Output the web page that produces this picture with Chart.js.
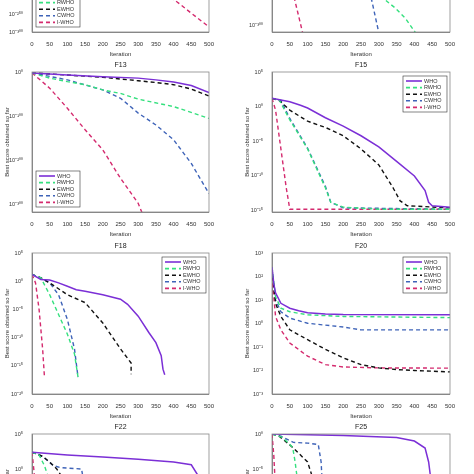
<!DOCTYPE html>
<html>
<head>
<meta charset="utf-8">
<script src="https://cdn.jsdelivr.net/npm/chart.js@4"></script>
<style>
  body { margin: 0; width: 474px; height: 474px; overflow: hidden; background: #fff; position: relative; }
  .panel { position: absolute; }
</style>
</head>
<body>
<script>
// Series names and colours (same in every panel)
const names = ["WHO", "RWHO", "EWHO", "CWHO", "I-WHO"];
const colors = ["#7b2fd6", "#35e07e", "#111111", "#3e63b8", "#d42a6e"];

// Values are log10 of the best score, [iteration, exponent]
const P1_WHO = [[0, 0], [100, -3], [200, -6], [300, -9], [400, -12], [500, -16]];
const P1_RWHO = [[0, 0], [100, -20], [200, -40], [300, -60], [400, -80], [500, -100]];
const P1_EWHO = [[0, 0], [100, -4], [200, -8], [300, -12], [400, -18], [500, -25]];
const P1_CWHO = [[0, 0], [100, -30], [200, -60], [300, -95], [400, -130], [500, -170]];
const P1_IWHO = [[0, 0], [100, -50], [200, -100], [300, -150], [400, -205], [410, -212], [450, -245], [500, -285]];

const P2_WHO = [[0, 0], [250, -40], [500, -100]];
const P2_RWHO = [[0, 0], [100, -40], [200, -100], [300, -200], [319, -226], [330, -236], [347, -250], [375, -280], [395, -310], [403, -322]];
const P2_EWHO = [[0, 0], [250, -60], [500, -150]];
const P2_CWHO = [[0, 0], [100, -50], [200, -120], [250, -180], [280, -226], [300, -322]];
const P2_IWHO = [[0, 0], [50, -180], [64, -226], [86, -322]];

const F13_WHO = [[0, 0], [100, -5], [200, -9], [300, -12], [350, -16], [400, -21], [450, -29], [500, -45]];
const F13_RWHO = [[0, 0], [50, -12], [100, -20], [150, -27], [200, -39], [250, -47], [300, -60], [400, -77], [500, -104]];
const F13_EWHO = [[0, 0], [100, -5], [200, -10], [300, -18], [350, -22], [400, -27], [450, -37], [500, -53]];
const F13_CWHO = [[0, 0], [100, -16], [200, -39], [250, -58], [300, -92], [350, -119], [400, -153], [450, -207], [500, -276]];
const F13_IWHO = [[0, 0], [50, -35], [100, -81], [150, -130], [200, -176], [250, -241], [300, -298], [312, -322]];

const F15_WHO = [[0, 1.2], [50, 0.7], [80, 0.2], [100, -0.2], [150, -1.6], [200, -2.8], [250, -4.2], [300, -5.8], [350, -7.9], [400, -10], [430, -12.1], [440, -13.8], [450, -14.3], [500, -14.5]];
const F15_RWHO = [[0, 1.2], [20, 1.0], [50, -1.9], [100, -6.1], [150, -11.7], [165, -13.8], [200, -14.5], [300, -14.8], [500, -14.8]];
const F15_EWHO = [[0, 1.2], [20, 0.9], [50, -0.5], [100, -2.1], [150, -3.0], [200, -4.2], [250, -6.1], [300, -8.4], [340, -11.7], [360, -13.6], [380, -14.3], [500, -14.6]];
const F15_CWHO = [[0, 1.2], [25, 0.9], [50, -1.7], [100, -6], [150, -11.5], [165, -13.8], [200, -14.6], [500, -14.8]];
const F15_IWHO = [[0, 1.2], [10, -0.5], [25, -6.1], [40, -11.7], [50, -14.8], [500, -14.8]];

const F18_WHO = [[0, 1.2], [25, 0.3], [50, 0.2], [75, -0.3], [100, -0.9], [125, -1.5], [150, -1.8], [200, -2.4], [250, -3.2], [270, -4.1], [300, -6.2], [330, -9.1], [350, -10.9], [365, -13.2], [370, -15.6], [375, -16.6]];
const F18_RWHO = [[0, 1.2], [25, 0.6], [50, -2.4], [75, -5.9], [100, -9.4], [120, -12.9], [130, -17]];
const F18_EWHO = [[0, 1.2], [25, 0.6], [50, -0.3], [100, -2.4], [150, -3.8], [200, -7.4], [250, -12], [280, -14.5], [280, -16.5]];
const F18_CWHO = [[0, 1.2], [25, 0.6], [50, -0.3], [75, -2.4], [100, -6.8], [120, -12], [130, -17]];
const F18_IWHO = [[0, 1.2], [10, -0.3], [20, -5], [30, -12], [35, -16.8]];

const F20_WHO = [[0, 2.4], [5, 1.7], [10, 1.3], [25, 0.86], [50, 0.65], [75, 0.54], [100, 0.46], [150, 0.4], [200, 0.38], [500, 0.37]];
const F20_RWHO = [[0, 2.4], [10, 1.14], [25, 0.65], [50, 0.5], [100, 0.37], [200, 0.3], [500, 0.25]];
const F20_EWHO = [[0, 2.3], [10, 0.86], [25, 0.3], [50, -0.27], [100, -0.69], [150, -1.1], [200, -1.46], [250, -1.75], [300, -1.89], [350, -1.96], [400, -2.0], [500, -2.06]];
const F20_CWHO = [[0, 2.3], [10, 1.0], [25, 0.5], [50, 0.23], [100, 0.01], [200, -0.15], [250, -0.27], [500, -0.27]];
const F20_IWHO = [[0, 2.0], [10, 0.3], [25, -0.27], [50, -0.83], [100, -1.39], [150, -1.75], [200, -1.85], [300, -1.89], [500, -1.9]];

const F22_WHO = [[0, 2.4], [100, 2.0], [200, 1.7], [300, 1.4], [400, 1.0], [450, 0.6], [470, -1], [480, -5]];
const F22_RWHO = [[0, 2.4], [20, 2.0], [35, 0.5], [45, -1], [60, -4]];
const F22_EWHO = [[0, 2.4], [30, 1.8], [50, 1.0], [70, 0.0], [90, -1.5], [110, -4]];
const F22_CWHO = [[0, 2.4], [30, 1.8], [60, 0.5], [80, 0.2], [140, 0.0], [150, -3]];
const F22_IWHO = [[0, 2.4], [5, 0], [10, -3]];

const F25_WHO = [[0, 0], [200, -0.2], [350, -0.5], [400, -1.0], [430, -2], [440, -4], [445, -6]];
const F25_RWHO = [[0, 0], [30, -0.5], [58, -1.9], [65, -4], [75, -8]];
const F25_EWHO = [[0, 0], [20, -0.3], [60, -2], [100, -4], [125, -8]];
const F25_CWHO = [[0, 0], [25, -0.3], [60, -1.2], [100, -1.3], [130, -1.5], [138, -4], [142, -8]];
const F25_IWHO = [[0, 0], [5, -3], [10, -8]];

const xTicks = [0, 50, 100, 150, 200, 250, 300, 350, 400, 450, 500];

const SUP = { "0": "⁰", "1": "¹", "2": "²", "3": "³", "4": "⁴", "5": "⁵", "6": "⁶", "7": "⁷", "8": "⁸", "9": "⁹", "-": "⁻" };
function pow10(k) {
    return "10" + String(k).split("").map(c => SUP[c]).join("");
}

// Title, box and legend drawn by hand (MATLAB look)
const extras = {
    id: "extras",
    afterDraw(chart) {
        const o = chart.options.plugins.extras;
        const a = chart.chartArea;
        const ctx = chart.ctx;
        ctx.save();
        ctx.strokeStyle = "#888";
        ctx.lineWidth = 0.8;
        ctx.setLineDash([]);
        ctx.strokeRect(a.left, a.top, a.right - a.left, a.bottom - a.top);
        ctx.fillStyle = "#222";
        ctx.font = "7px 'Liberation Sans'";
        ctx.textAlign = "center";
        ctx.textBaseline = "bottom";
        if (o.title) ctx.fillText(o.title, (a.left + a.right) / 2, a.top - 3);
        if (o.legend) {
            const w = 44, h = 36;
            const x = o.legend === "tr" ? a.right - w - 3 : a.left + 4;
            const y = o.legend === "tr" ? a.top + 4 : a.bottom - h - 5;
            ctx.fillStyle = "#fff";
            ctx.fillRect(x, y, w, h);
            ctx.strokeStyle = "#333";
            ctx.lineWidth = 0.6;
            ctx.strokeRect(x, y, w, h);
            ctx.font = "5.5px 'Liberation Sans'";
            ctx.textAlign = "left";
            ctx.textBaseline = "middle";
            chart.data.datasets.forEach((ds, i) => {
                const ly = y + 5 + i * 6.6;
                ctx.strokeStyle = ds.borderColor;
                ctx.lineWidth = 1.6;
                ctx.setLineDash(ds.borderDash || []);
                ctx.beginPath();
                ctx.moveTo(x + 3, ly);
                ctx.lineTo(x + 19, ly);
                ctx.stroke();
                ctx.setLineDash([]);
                ctx.fillStyle = "#333";
                ctx.fillText(ds.label, x + 21, ly);
            });
        }
        ctx.restore();
    }
};

function panel(box, title, series, yMin, yMax, step, legend) {
    const padL = 28, padT = 14, padB = 26, padR = 4;
    const wrap = document.createElement("div");
    wrap.className = "panel";
    wrap.style.left = (box.l - padL) + "px";
    wrap.style.top = (box.t - padT) + "px";
    wrap.style.width = (box.r - box.l + padL + padR) + "px";
    wrap.style.height = (box.b - box.t + padT + padB) + "px";
    const c = document.createElement("canvas");
    wrap.appendChild(c);
    document.body.appendChild(wrap);

    new Chart(c, {
        type: "line",
        data: {
            datasets: series.map((s, i) => ({
                label: names[i],
                data: s.map(p => ({ x: p[0], y: p[1] })),
                borderColor: colors[i],
                borderWidth: i === 0 ? 1.5 : 1.4,
                borderDash: i === 0 ? [] : [4, 3],
                pointRadius: 0,
                tension: 0,
                fill: false
            }))
        },
        options: {
            animation: false,
            responsive: true,
            maintainAspectRatio: false,
            layout: { padding: { top: padT, right: padR, left: 0, bottom: 0 } },
            plugins: {
                legend: { display: false },
                tooltip: { enabled: false },
                extras: { title: title, legend: legend }
            },
            scales: {
                x: {
                    type: "linear",
                    min: 0,
                    max: 500,
                    afterBuildTicks: ax => { ax.ticks = xTicks.map(v => ({ value: v })); },
                    grid: { display: false },
                    border: { color: "#888" },
                    ticks: { font: { size: 6, family: "Liberation Sans" }, color: "#333", padding: 1, maxRotation: 0 },
                    title: { display: true, text: "Iteration", font: { size: 6, family: "Liberation Sans" }, color: "#333", padding: 0 },
                    afterFit: ax => { ax.height = padB; }
                },
                y: {
                    type: "linear",
                    min: yMin,
                    max: yMax,
                    afterBuildTicks: ax => {
                        const t = [];
                        for (let v = Math.ceil(yMin / step) * step; v <= yMax; v += step) t.push({ value: v });
                        ax.ticks = t;
                    },
                    grid: { display: false },
                    border: { color: "#888" },
                    ticks: { font: { size: 5.5, family: "Liberation Sans" }, color: "#333", padding: 1, callback: v => pow10(v) },
                    title: { display: true, text: "Best score obtained so far", font: { size: 6, family: "Liberation Sans" }, color: "#333", padding: 0 },
                    afterFit: ax => { ax.width = padL; }
                }
            }
        },
        plugins: [extras]
    });
}

const L = { l: 32, r: 211 }, R = { l: 272, r: 452 };
const row = (t, b, side) => ({ l: side.l, r: side.r, t: t, b: b });

panel(row(-108, 32, L), "", [P1_WHO, P1_RWHO, P1_EWHO, P1_CWHO, P1_IWHO], -300, 110, 50, "bl");
panel(row(-108, 32, R), "", [P2_WHO, P2_RWHO, P2_EWHO, P2_CWHO, P2_IWHO], -320, 92, 100, null);
panel(row(72, 212, L), "F13", [F13_WHO, F13_RWHO, F13_EWHO, F13_CWHO, F13_IWHO], -318, 2, 100, "bl");
panel(row(72, 212, R), "F15", [F15_WHO, F15_RWHO, F15_EWHO, F15_CWHO, F15_IWHO], -15.2, 5, 5, "tr");
panel(row(253, 394, L), "F18", [F18_WHO, F18_RWHO, F18_EWHO, F18_CWHO, F18_IWHO], -20, 5, 5, "tr");
panel(row(253, 394, R), "F20", [F20_WHO, F20_RWHO, F20_EWHO, F20_CWHO, F20_IWHO], -3, 3, 1, "tr");
panel(row(434, 574, L), "F22", [F22_WHO, F22_RWHO, F22_EWHO, F22_CWHO, F22_IWHO], -15, 5, 5, null);
panel(row(434, 574, R), "F25", [F25_WHO, F25_RWHO, F25_EWHO, F25_CWHO, F25_IWHO], -20, 0, 5, null);
</script>
</body>
</html>
